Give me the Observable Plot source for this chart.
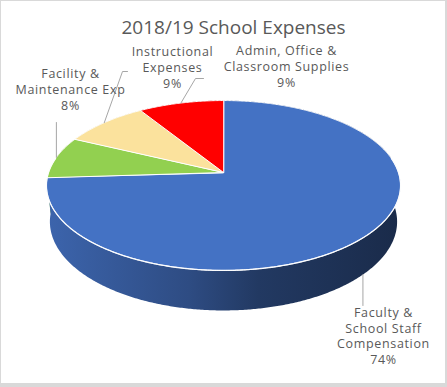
<!DOCTYPE html>
<html><head><meta charset="utf-8">
<script src="https://cdn.jsdelivr.net/npm/d3@7"></script>
<script src="https://cdn.jsdelivr.net/npm/@observablehq/plot@0.6"></script>
<style>
html,body{margin:0;padding:0;background:#fff;}
#frame{position:absolute;left:0;top:0;width:444px;height:382px;border-top:1px solid #d9d9d9;border-left:1px solid #d9d9d9;border-right:2px solid #d9d9d9;border-bottom:4px solid #d9d9d9;background:#fff;}
#frame svg{display:block;}
</style></head><body><div id="frame"></div>
<script>
// ---- data ----
const title = "2018/19 School Expenses";
const categories = ["Faculty & School Staff Compensation", "Facility & Maintenance Exp", "Instructional Expenses", "Admin, Office & Classroom Supplies"];
const labelLines = [["Faculty &", "School Staff", "Compensation"], ["Facility &", "Maintenance Exp"], ["Instructional", "Expenses"], ["Admin, Office &", "Classroom Supplies"]];
const values = [74, 8, 9, 9];
const colors = ["#4472c4", "#92d050", "#fbe29d", "#ff0000"];

// ---- layout (pixel positions of the chart frame) ----
const cam = {cx: 223, cy: 172, f: 1008, D: 5.76, phi: 28.3 * Math.PI / 180, thick: 0.2375};
const labelLayout = [
  {lx: 383, ly: 335, elbowY: 305},
  {lx: 70, ly: 88.5, elbowY: 122},
  {lx: 172, ly: 66.5, elbow: [122, 71], stub: 127},
  {lx: 286, ly: 65.5, elbow: [195, 78], stub: 203}
];
const textColor = "#595959";
const font = "'Open Sans', sans-serif";
const shadeStops = [[0, 0.12], [0.4, 0.33], [0.6, 0.5], [1, 0.62]];

// perspective projection of a point on a unit cylinder
const sinP = Math.sin(cam.phi), cosP = Math.cos(cam.phi);
function proj(theta, Y) {
  const X = Math.sin(theta), Z = Math.cos(theta);
  const yc = Y * cosP + Z * sinP;
  const depth = cam.D + Z * cosP - Y * sinP;
  return [cam.cx + cam.f * X / depth, cam.cy - cam.f * yc / depth];
}

const total = d3.sum(values);
const arcs = d3.pie().sort(null).value(d => d)(values);
const DEG = Math.PI / 180;
function rimRange(a0, a1, Y) {
  const n = Math.max(2, Math.ceil((a1 - a0) / (0.5 * DEG)));
  return d3.range(n + 1).map(j => proj(a0 + (a1 - a0) * j / n, Y));
}

// side walls: one band per slice, farthest first
const wallOrder = arcs.map((a, i) => i).sort((i, j) =>
  Math.cos((arcs[j].startAngle + arcs[j].endAngle) / 2) - Math.cos((arcs[i].startAngle + arcs[i].endAngle) / 2));
const wallPts = [];
wallOrder.forEach((i, order) => {
  const a = arcs[i];
  const up = rimRange(a.startAngle, a.endAngle, 0);
  const down = rimRange(a.startAngle, a.endAngle, -cam.thick).reverse();
  [...up, ...down].forEach(([x, y]) => wallPts.push({seg: order, x, y, fill: `url(#wallGrad${i})`}));
});

// top face slices
const facePts = [];
arcs.forEach((a, i) => {
  facePts.push({slice: i, x: cam.cx, y: cam.cy, fill: colors[i]});
  rimRange(a.startAngle, a.endAngle, 0).forEach(([x, y]) => facePts.push({slice: i, x, y, fill: colors[i]}));
});

// rim highlight (front edge)
const rimPts = rimRange(80 * DEG, 280 * DEG, 0).map(([x, y]) => ({x, y}));

// labels & leader lines
const labels = arcs.map((a, i) => ({
  x: labelLayout[i].lx, y: labelLayout[i].ly,
  text: [...labelLines[i], d3.format(".0%")(values[i] / total)].join("\n")
}));
const leaders = [];
arcs.forEach((a, i) => {
  const mid = (a.startAngle + a.endAngle) / 2;
  const front = Math.cos(mid) < 0;
  const [ax, ay] = proj(mid, front ? -cam.thick : 0);
  const L = labelLayout[i];
  leaders.push({id: i, x: ax, y: ay});
  if (L.elbow) {
    leaders.push({id: i, x: L.elbow[0], y: L.elbow[1]});
    leaders.push({id: i, x: L.stub, y: L.elbow[1]});
  } else {
    leaders.push({id: i, x: ax, y: L.elbowY});
  }
});

const chart = Plot.plot({
  width: 444, height: 382, margin: 0,
  x: {domain: [1, 445], range: [0, 444], axis: null},
  y: {domain: [1, 383], range: [0, 382], axis: null},
  color: {type: "identity"},
  style: {background: "transparent", fontFamily: font},
  marks: [
    Plot.line(wallPts, {x: "x", y: "y", z: "seg", fill: "fill", stroke: "none", curve: "linear-closed"}),
    Plot.line(facePts, {x: "x", y: "y", z: "slice", fill: "fill", stroke: "#fff", strokeWidth: 1, strokeLinejoin: "round", curve: "linear-closed"}),
    Plot.line(rimPts, {x: "x", y: "y", stroke: "#fff", strokeWidth: 1.3, strokeOpacity: 0.9}),
    Plot.line(leaders, {x: "x", y: "y", z: "id", stroke: "#a6a6a6", strokeWidth: 1}),
    Plot.text(labels, {x: "x", y: "y", text: "text", fill: textColor, fontSize: 12.5, lineHeight: 1.26, textAnchor: "middle", lineAnchor: "middle", fontFamily: font, className: "pie-label"}),
    Plot.text([title], {x: () => 233, y: () => 27, text: d => d, fill: textColor, fontSize: 19, textAnchor: "middle", lineAnchor: "middle", fontFamily: font})
  ]
});

// horizontal shading gradients for the side walls
const xs = chart.scale("x");
const NS = "http://www.w3.org/2000/svg";
const defs = document.createElementNS(NS, "defs");
arcs.forEach((a, i) => {
  const g = document.createElementNS(NS, "linearGradient");
  g.setAttribute("id", `wallGrad${i}`);
  g.setAttribute("gradientUnits", "userSpaceOnUse");
  g.setAttribute("x1", xs.apply(cam.cx - cam.f / cam.D));
  g.setAttribute("x2", xs.apply(cam.cx + cam.f / cam.D));
  g.setAttribute("y1", 0); g.setAttribute("y2", 0);
  shadeStops.forEach(([o, k]) => {
    const st = document.createElementNS(NS, "stop");
    st.setAttribute("offset", o);
    st.setAttribute("stop-color", d3.interpolateRgb(colors[i], "#000")(k));
    g.appendChild(st);
  });
  defs.appendChild(g);
});
chart.insertBefore(defs, chart.firstChild);
chart.querySelectorAll("g.pie-label text").forEach(t => t.style.letterSpacing = "0.65px");
document.getElementById("frame").appendChild(chart);
</script></body></html>
